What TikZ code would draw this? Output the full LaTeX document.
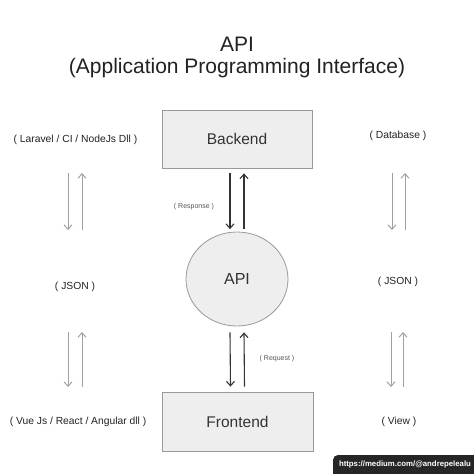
\documentclass[tikz,border=0pt]{standalone}
\usepackage{fontspec}
\setmainfont{Liberation Sans}
\usetikzlibrary{arrows.meta,calc,shapes.geometric}
\definecolor{boxfill}{HTML}{EEEEEE}
\definecolor{boxline}{HTML}{999999}
\definecolor{darkarrow}{HTML}{333333}
\definecolor{sidegray}{HTML}{A0A0A0}
\definecolor{txt}{HTML}{222222}
\definecolor{smalltxt}{HTML}{555555}
\definecolor{markbg}{HTML}{262626}
\tikzset{
  mainbox/.style={draw=boxline, fill=boxfill, line width=0.8pt, minimum width=150pt, minimum height=58pt, inner sep=0pt, font=\fontsize{15.5}{18}\selectfont, text=darkarrow},
  apinode/.style={ellipse, draw=boxline, fill=boxfill, line width=0.8pt, minimum width=102pt, minimum height=94pt, inner sep=0pt, font=\fontsize{16}{19}\selectfont, text=darkarrow},
  sidelabel/.style={font=\fontsize{10.3}{12}\selectfont, text=txt, inner sep=1pt},
  smalllabel/.style={font=\fontsize{7}{8}\selectfont, text=smalltxt, inner sep=1pt},
  titletext/.style={font=\fontsize{21}{24}\selectfont, text=txt, inner sep=0pt},
  darkarr/.style={draw=darkarrow, line width=1.1pt, -{Straight Barb[length=4.5pt,width=8pt]}},
  sidearr/.style={draw=sidegray, line width=1pt, -{Straight Barb[length=4.5pt,width=8pt]}},
}
\begin{document}
\begin{tikzpicture}[x=1pt,y=-1pt]
\useasboundingbox (0,0) rectangle (474,474);
\fill[white] (0,0) rectangle (474,474);
% title
\node[titletext] (t1) at (237,44.5) {API};
\node[titletext] (t2) at (237,68.5) {(Application Programming Interface)};
% main nodes
\node[mainbox] (backend) at (237,139) {Backend};
\node[apinode] (api) at (237,279) {API};
\node[mainbox, minimum width=151pt, minimum height=59pt] (frontend) at (237.5,421.5) {Frontend};
% center arrows
\draw[darkarr] ([xshift=-7pt,yshift=-5pt]backend.south) -- ([xshift=-7pt,yshift=2.5pt]api.north);
\draw[darkarr] ([xshift=7pt,yshift=2.5pt]api.north) -- ([xshift=7pt,yshift=-5pt]backend.south);
\draw[darkarr] ([xshift=-7pt,yshift=-6pt]api.south) -- ([xshift=-7pt,yshift=5pt]frontend.north);
\draw[darkarr] ([xshift=7pt,yshift=5pt]frontend.north) -- ([xshift=7pt,yshift=-6pt]api.south);
\node[smalllabel] (resp) at (194,207) {( Response )};
\node[smalllabel] (req) at (277,359) {( Request )};
% left column
\node[sidelabel] (lar) at (75.5,140) {( Laravel / CI / NodeJs Dll )};
\node[sidelabel] (ljson) at (75,287) {( JSON )};
\node[sidelabel] (vue) at (78,422) {( Vue Js / React / Angular dll )};
\draw[sidearr] ($(lar.center)+(-7.5,33)$) -- ($(lar.center)+(-7.5,90)$);
\draw[sidearr] ($(lar.center)+(6.5,90)$) -- ($(lar.center)+(6.5,33)$);
\draw[sidearr] ($(ljson.center)+(-7,45)$) -- ($(ljson.center)+(-7,100)$);
\draw[sidearr] ($(ljson.center)+(7,100)$) -- ($(ljson.center)+(7,45)$);
% right column
\node[sidelabel] (db) at (398,136) {( Database )};
\node[sidelabel] (rjson) at (398,282) {( JSON )};
\node[sidelabel] (view) at (399,422) {( View )};
\draw[sidearr] ($(db.center)+(-6,37)$) -- ($(db.center)+(-6,94)$);
\draw[sidearr] ($(db.center)+(7,94)$) -- ($(db.center)+(7,37)$);
\draw[sidearr] ($(rjson.center)+(-7,50)$) -- ($(rjson.center)+(-7,105)$);
\draw[sidearr] ($(rjson.center)+(5,105)$) -- ($(rjson.center)+(5,50)$);
% watermark
\fill[markbg, rounded corners=5pt] (333,455) rectangle (480,480);
\node[font=\bfseries\fontsize{7.8}{9}\selectfont, text=white, inner sep=0pt] (mark) at (405,464.5) {https://medium.com/@andrepelealu};
\end{tikzpicture}
\end{document}
